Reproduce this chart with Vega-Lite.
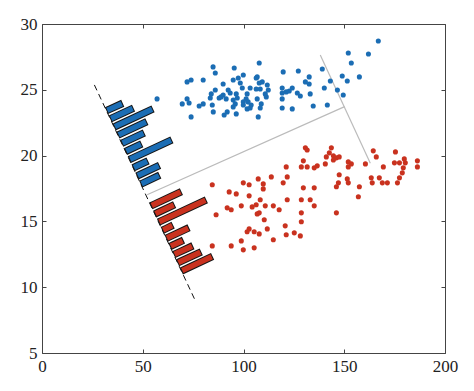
{
  "$schema": "https://vega.github.io/schema/vega-lite/v6.json",
  "width": 403,
  "height": 329,
  "autosize": {"type": "none"},
  "padding": {"left": 42, "top": 24, "right": 29, "bottom": 38},
  "background": "white",
  "config": {
    "view": {"stroke": null},
    "axis": {
      "labelFont": "Liberation Serif",
      "labelFontSize": 17,
      "labelColor": "#222222",
      "domainColor": "#444444",
      "tickColor": "#444444",
      "tickSize": -4,
      "grid": false,
      "labelPadding": 9,
      "labelFlush": false,
      "labelOverlap": false,
      "title": null
    }
  },
  "datasets": {
    "pts": [
      {"g":"A","x":57.1,"y":24.31},{"g":"A","x":84.9,"y":26.74},{"g":"A","x":86.0,"y":26.28},{"g":"A","x":95.4,"y":26.66},{"g":"A","x":72.0,"y":25.60},{"g":"A","x":74.0,"y":25.75},{"g":"A","x":80.0,"y":25.75},{"g":"A","x":89.9,"y":25.44},{"g":"A","x":94.9,"y":25.75},{"g":"A","x":97.4,"y":25.90},{"g":"A","x":99.9,"y":26.13},{"g":"A","x":98.4,"y":25.52},{"g":"A","x":99.4,"y":25.14},{"g":"A","x":72.0,"y":24.31},{"g":"A","x":69.6,"y":23.93},{"g":"A","x":73.0,"y":24.00},{"g":"A","x":78.0,"y":23.77},{"g":"A","x":80.0,"y":23.93},{"g":"A","x":84.0,"y":24.69},{"g":"A","x":86.0,"y":24.99},{"g":"A","x":83.5,"y":24.38},{"g":"A","x":87.9,"y":24.38},{"g":"A","x":89.9,"y":24.61},{"g":"A","x":91.4,"y":24.31},{"g":"A","x":92.4,"y":24.99},{"g":"A","x":96.4,"y":24.69},{"g":"A","x":96.9,"y":24.38},{"g":"A","x":99.9,"y":24.08},{"g":"A","x":101.8,"y":24.69},{"g":"A","x":103.3,"y":25.14},{"g":"A","x":84.5,"y":23.85},{"g":"A","x":85.0,"y":23.32},{"g":"A","x":90.4,"y":23.09},{"g":"A","x":91.9,"y":23.32},{"g":"A","x":94.9,"y":23.70},{"g":"A","x":95.9,"y":23.93},{"g":"A","x":96.4,"y":23.17},{"g":"A","x":99.9,"y":23.85},{"g":"A","x":101.8,"y":23.55},{"g":"A","x":103.3,"y":23.62},{"g":"A","x":103.8,"y":23.85},{"g":"A","x":74.0,"y":22.94},{"g":"A","x":88.9,"y":24.46},{"g":"A","x":93.4,"y":24.76},{"g":"A","x":94.9,"y":24.23},{"g":"A","x":101.3,"y":24.31},{"g":"A","x":102.3,"y":24.08},
      {"g":"A","x":107.8,"y":27.04},{"g":"A","x":119.7,"y":26.36},{"g":"A","x":127.2,"y":26.43},{"g":"A","x":139.1,"y":26.58},{"g":"A","x":152.0,"y":27.80},{"g":"A","x":162.0,"y":27.72},{"g":"A","x":166.9,"y":28.71},{"g":"A","x":153.5,"y":27.04},{"g":"A","x":157.5,"y":25.98},{"g":"A","x":149.0,"y":26.05},{"g":"A","x":151.5,"y":25.67},{"g":"A","x":143.1,"y":25.67},{"g":"A","x":146.6,"y":24.99},{"g":"A","x":149.5,"y":24.61},{"g":"A","x":140.1,"y":25.14},{"g":"A","x":141.6,"y":23.85},{"g":"A","x":134.6,"y":23.77},{"g":"A","x":133.1,"y":24.69},{"g":"A","x":132.6,"y":25.44},{"g":"A","x":130.7,"y":25.60},{"g":"A","x":132.6,"y":25.98},{"g":"A","x":128.2,"y":24.53},{"g":"A","x":126.7,"y":24.76},{"g":"A","x":124.2,"y":25.14},{"g":"A","x":122.7,"y":24.91},{"g":"A","x":121.2,"y":24.84},{"g":"A","x":119.2,"y":25.14},{"g":"A","x":119.2,"y":24.76},{"g":"A","x":119.2,"y":24.31},{"g":"A","x":119.2,"y":23.62},{"g":"A","x":124.2,"y":23.55},{"g":"A","x":112.3,"y":24.99},{"g":"A","x":111.8,"y":25.37},{"g":"A","x":109.3,"y":25.60},{"g":"A","x":106.8,"y":25.98},{"g":"A","x":107.8,"y":25.52},{"g":"A","x":108.3,"y":25.06},{"g":"A","x":106.3,"y":25.06},{"g":"A","x":110.8,"y":24.69},{"g":"A","x":111.3,"y":24.46},{"g":"A","x":106.8,"y":24.31},{"g":"A","x":108.8,"y":23.93},{"g":"A","x":108.3,"y":23.62},{"g":"A","x":107.3,"y":22.94},{"g":"A","x":106.3,"y":25.90},
      {"g":"B","x":84.5,"y":17.78},{"g":"B","x":86.4,"y":15.50},{"g":"B","x":91.9,"y":16.03},{"g":"B","x":93.9,"y":15.88},{"g":"B","x":92.9,"y":17.24},{"g":"B","x":96.4,"y":17.09},{"g":"B","x":99.9,"y":17.93},{"g":"B","x":102.8,"y":17.78},{"g":"B","x":102.8,"y":16.94},{"g":"B","x":98.9,"y":16.18},{"g":"B","x":104.3,"y":16.10},{"g":"B","x":106.3,"y":16.26},{"g":"B","x":108.3,"y":16.64},{"g":"B","x":106.8,"y":15.57},{"g":"B","x":107.8,"y":15.65},{"g":"B","x":110.8,"y":16.18},{"g":"B","x":110.3,"y":15.12},{"g":"B","x":111.8,"y":14.43},{"g":"B","x":107.3,"y":18.23},{"g":"B","x":109.8,"y":17.85},{"g":"B","x":109.8,"y":17.47},{"g":"B","x":113.8,"y":18.38},{"g":"B","x":114.8,"y":16.18},{"g":"B","x":117.7,"y":15.88},{"g":"B","x":119.7,"y":17.93},{"g":"B","x":121.7,"y":18.38},{"g":"B","x":121.2,"y":19.14},{"g":"B","x":121.7,"y":16.64},{"g":"B","x":120.7,"y":14.66},{"g":"B","x":125.2,"y":14.13},{"g":"B","x":121.2,"y":13.98},{"g":"B","x":114.8,"y":13.60},{"g":"B","x":102.8,"y":14.43},{"g":"B","x":101.8,"y":14.21},{"g":"B","x":105.3,"y":14.21},{"g":"B","x":107.8,"y":14.05},{"g":"B","x":98.9,"y":13.52},{"g":"B","x":99.9,"y":12.84},{"g":"B","x":105.3,"y":12.99},{"g":"B","x":93.9,"y":13.14},{"g":"B","x":84.5,"y":13.14},{"g":"B","x":128.7,"y":16.64},{"g":"B","x":128.7,"y":15.65},{"g":"B","x":128.7,"y":14.97},{"g":"B","x":128.2,"y":13.90},{"g":"B","x":129.7,"y":17.55},{"g":"B","x":133.1,"y":16.64},{"g":"B","x":135.1,"y":16.18},{"g":"B","x":135.1,"y":17.55},{"g":"B","x":146.1,"y":15.65},{"g":"B","x":146.1,"y":17.63},{"g":"B","x":147.1,"y":17.93},{"g":"B","x":152.0,"y":17.93},{"g":"B","x":157.5,"y":17.63},{"g":"B","x":157.0,"y":16.87},{"g":"B","x":163.9,"y":17.93},{"g":"B","x":168.9,"y":17.93},{"g":"B","x":171.4,"y":17.93},{"g":"B","x":176.4,"y":17.93},
      {"g":"B","x":130.7,"y":20.59},{"g":"B","x":131.6,"y":20.43},{"g":"B","x":143.6,"y":20.59},{"g":"B","x":142.6,"y":20.21},{"g":"B","x":141.1,"y":19.90},{"g":"B","x":144.6,"y":19.98},{"g":"B","x":146.1,"y":19.83},{"g":"B","x":147.5,"y":19.90},{"g":"B","x":144.6,"y":19.67},{"g":"B","x":129.7,"y":19.60},{"g":"B","x":128.7,"y":19.14},{"g":"B","x":131.6,"y":19.14},{"g":"B","x":135.1,"y":19.07},{"g":"B","x":136.6,"y":19.22},{"g":"B","x":140.6,"y":19.37},{"g":"B","x":152.0,"y":19.52},{"g":"B","x":153.5,"y":19.37},{"g":"B","x":152.0,"y":19.14},{"g":"B","x":160.5,"y":19.37},{"g":"B","x":164.4,"y":20.36},{"g":"B","x":165.9,"y":19.90},{"g":"B","x":175.4,"y":20.28},{"g":"B","x":174.9,"y":19.45},{"g":"B","x":177.4,"y":19.45},{"g":"B","x":179.8,"y":19.75},{"g":"B","x":180.3,"y":19.45},{"g":"B","x":179.3,"y":19.07},{"g":"B","x":178.8,"y":18.69},{"g":"B","x":177.4,"y":18.31},{"g":"B","x":186.3,"y":19.60},{"g":"B","x":186.3,"y":19.14},{"g":"B","x":169.4,"y":19.14},{"g":"B","x":147.5,"y":18.54},{"g":"B","x":151.5,"y":18.23},{"g":"B","x":163.4,"y":18.31},{"g":"B","x":167.4,"y":18.31}
    ],
    "bars": [
      {"g":"A","x":33.66,"y":23.53,"x2":38.38,"y2":23.86},
      {"g":"A","x":35.55,"y":22.91,"x2":43.74,"y2":23.49},
      {"g":"A","x":37.44,"y":22.29,"x2":53.42,"y2":23.43},
      {"g":"A","x":39.33,"y":21.67,"x2":50.36,"y2":22.46},
      {"g":"A","x":41.22,"y":21.05,"x2":49.10,"y2":21.61},
      {"g":"A","x":43.11,"y":20.43,"x2":47.83,"y2":20.77},
      {"g":"A","x":45.00,"y":19.81,"x2":62.78,"y2":21.08},
      {"g":"A","x":46.89,"y":19.19,"x2":50.94,"y2":19.48},
      {"g":"A","x":48.78,"y":18.57,"x2":56.66,"y2":19.14},
      {"g":"A","x":50.67,"y":17.95,"x2":56.75,"y2":18.39},
      {"g":"B","x":55.71,"y":16.30,"x2":67.50,"y2":17.14},
      {"g":"B","x":57.60,"y":15.68,"x2":64.13,"y2":16.15},
      {"g":"B","x":59.49,"y":15.06,"x2":79.88,"y2":16.52},
      {"g":"B","x":61.38,"y":14.44,"x2":63.40,"y2":14.59},
      {"g":"B","x":63.27,"y":13.83,"x2":71.28,"y2":14.40},
      {"g":"B","x":65.16,"y":13.21,"x2":68.53,"y2":13.45},
      {"g":"B","x":67.06,"y":12.59,"x2":73.22,"y2":13.03},
      {"g":"B","x":68.94,"y":11.97,"x2":77.36,"y2":12.57},
      {"g":"B","x":70.84,"y":11.35,"x2":82.98,"y2":12.22}
    ],
    "guide": [
      {"x":52.16,"y":17.02,"x2":150.17,"y2":23.72},
      {"x":138.1,"y":27.65,"x2":162.94,"y2":19.42}
    ],
    "axisline": [
      {"x":26.0,"y":25.37,"x2":75.7,"y2":9.10}
    ]
  },
  "resolve": {"axis": {"x": "independent", "y": "independent"}},
  "layer": [
    {
      "data": {"name": "axisline"},
      "mark": {"type": "rule", "color": "#111111", "strokeWidth": 1, "strokeDash": [6, 4]},
      "encoding": {
        "x": {"field": "x", "type": "quantitative", "scale": {"domain": [0, 200], "nice": false, "zero": false}, "axis": {"orient": "bottom", "values": [0, 50, 100, 150, 200]}},
        "y": {"field": "y", "type": "quantitative", "scale": {"domain": [5, 30], "nice": false, "zero": false}, "axis": {"orient": "left", "values": [5, 10, 15, 20, 25, 30]}},
        "x2": {"field": "x2"},
        "y2": {"field": "y2"}
      }
    },
    {
      "data": {"name": "guide"},
      "mark": {"type": "rule", "color": "#bbbbbb", "strokeWidth": 1.2},
      "encoding": {
        "x": {"field": "x", "type": "quantitative", "axis": null},
        "y": {"field": "y", "type": "quantitative", "axis": null},
        "x2": {"field": "x2"},
        "y2": {"field": "y2"}
      }
    },
    {
      "data": {"name": "bars"},
      "mark": {"type": "rule", "color": "#151515", "strokeWidth": 7.5, "strokeCap": "square"},
      "encoding": {
        "x": {"field": "x", "type": "quantitative", "axis": null},
        "y": {"field": "y", "type": "quantitative", "axis": null},
        "x2": {"field": "x2"},
        "y2": {"field": "y2"}
      }
    },
    {
      "data": {"name": "bars"},
      "mark": {"type": "rule", "strokeWidth": 5.5, "strokeCap": "square"},
      "encoding": {
        "x": {"field": "x", "type": "quantitative", "axis": null},
        "y": {"field": "y", "type": "quantitative", "axis": null},
        "x2": {"field": "x2"},
        "y2": {"field": "y2"},
        "color": {"field": "g", "type": "nominal", "scale": {"domain": ["A", "B"], "range": ["#1b6db4", "#c9321f"]}, "legend": null}
      }
    },
    {
      "data": {"name": "pts"},
      "mark": {"type": "circle", "size": 26, "opacity": 1},
      "encoding": {
        "x": {"field": "x", "type": "quantitative", "axis": null},
        "y": {"field": "y", "type": "quantitative", "axis": null},
        "color": {"field": "g", "type": "nominal", "legend": null}
      }
    },
    {
      "data": {"name": "axisline"},
      "mark": {"type": "point", "opacity": 0},
      "encoding": {
        "x": {"field": "x", "type": "quantitative", "axis": {"orient": "top", "labels": false, "values": [0, 50, 100, 150, 200]}},
        "y": {"field": "y", "type": "quantitative", "axis": {"orient": "right", "labels": false, "values": [5, 10, 15, 20, 25, 30]}}
      }
    }
  ]
}
